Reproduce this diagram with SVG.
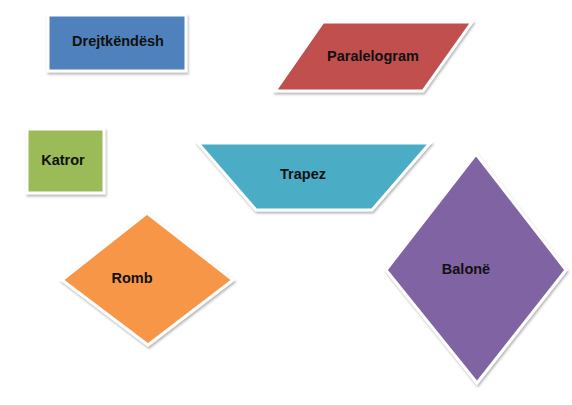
<svg xmlns="http://www.w3.org/2000/svg" width="572" height="405" viewBox="0 0 572 405">
<defs>
<filter id="sh" x="-20%" y="-20%" width="140%" height="140%">
<feDropShadow dx="1" dy="2" stdDeviation="1.2" flood-color="#7f7f7f" flood-opacity="0.55"/>
</filter>
</defs>
<style>
.s{stroke:#ffffff;stroke-width:3;stroke-linejoin:miter;filter:url(#sh)}
.t{font-family:"Liberation Sans",Arial,sans-serif;font-weight:bold;font-size:14.5px;fill:#111111;text-anchor:middle}
</style>
<rect width="572" height="405" fill="#ffffff"/>
<g id="drejtkendesh">
<rect class="s" x="48" y="15" width="138" height="56" fill="#4F81BD"/>
<text class="t" x="118" y="46">Drejtkëndësh</text>
</g>
<g id="paralelogram">
<polygon class="s" points="323,22 472,22 423,91 275,91" fill="#C0504D"/>
<text class="t" x="373" y="61">Paralelogram</text>
</g>
<g id="katror">
<rect class="s" x="27" y="129" width="77" height="64" fill="#9BBB59"/>
<text class="t" x="63" y="165">Katror</text>
</g>
<g id="trapez">
<polygon class="s" points="198,143 430,143 372,210 256,210" fill="#4BACC6"/>
<text class="t" x="303" y="179">Trapez</text>
</g>
<g id="romb">
<polygon class="s" points="147,213 233,280 148,345 62,280" fill="#F79646"/>
<text class="t" x="132" y="283">Romb</text>
</g>
<g id="balone">
<polygon class="s" points="476,154 566,270 477,383 386,270" fill="#8064A2"/>
<text class="t" x="466" y="274">Balonë</text>
</g>
<g id="connectors"></g>
</svg>
